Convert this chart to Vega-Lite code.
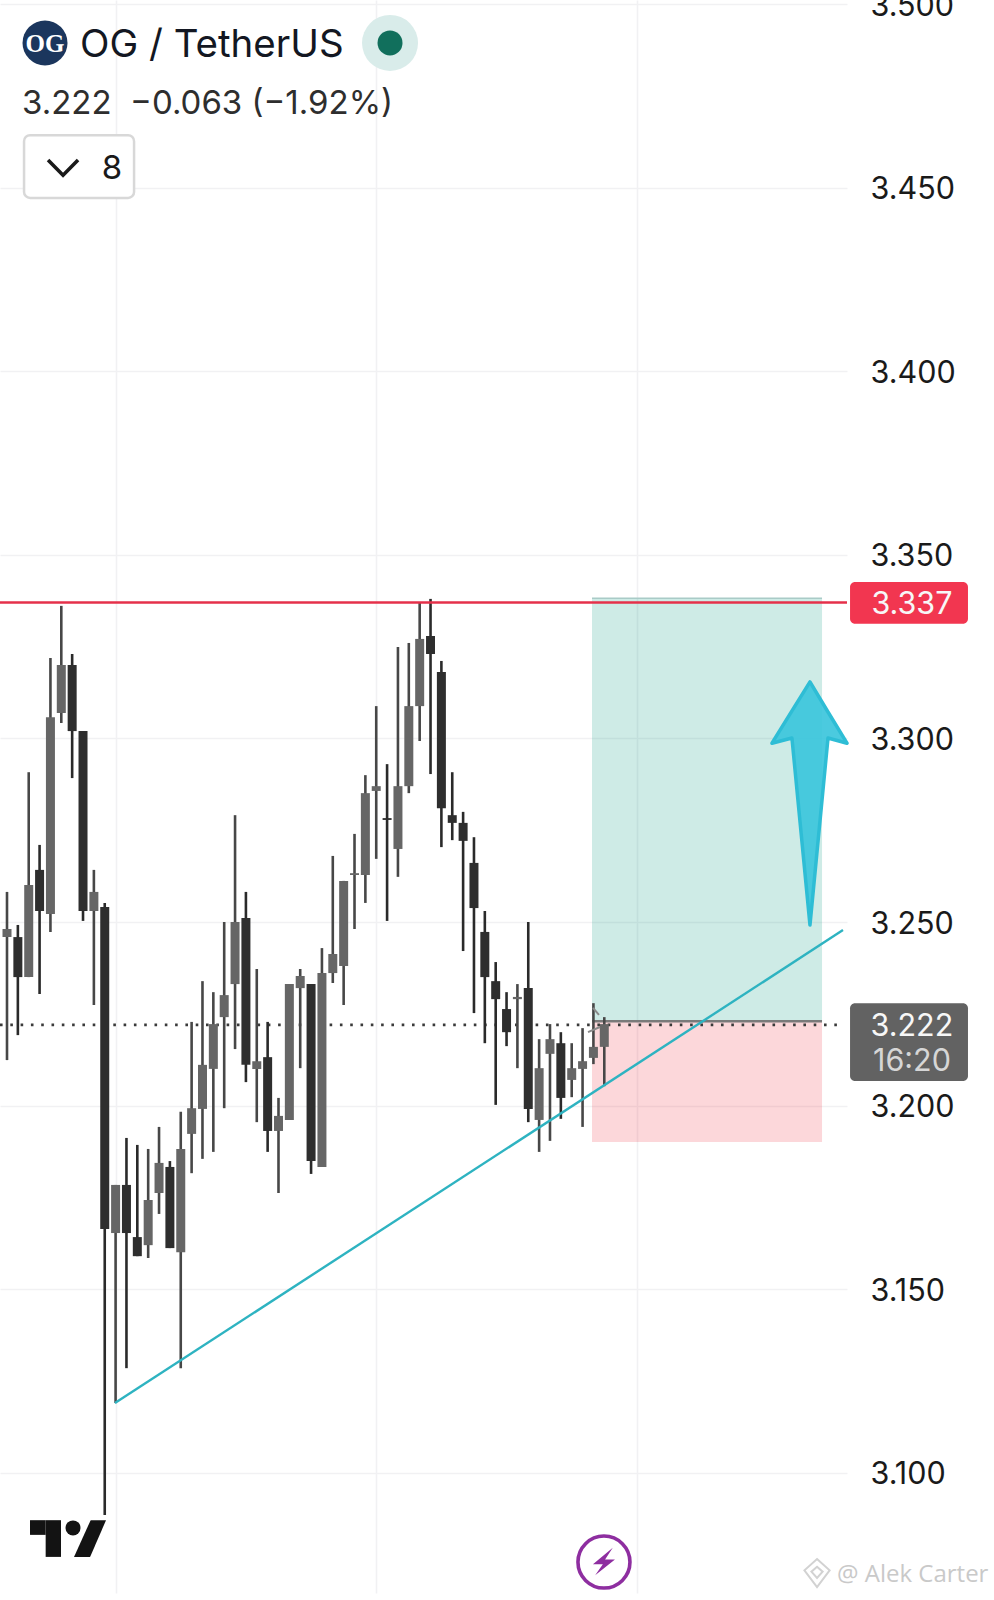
{
  "$schema": "https://vega.github.io/schema/vega-lite/v6.json",
  "width": 847,
  "height": 1593,
  "autosize": {"type": "none"},
  "padding": {"left": 0, "top": 0, "right": 147, "bottom": 7},
  "background": "#ffffff",
  "config": {"view": {"stroke": null}},
  "datasets": {
    "candles": [
      {"i":0,"open":3.2459,"high":3.2582,"low":3.2124,"close":3.2481},
      {"i":1,"open":3.2459,"high":3.2492,"low":3.2192,"close":3.2350},
      {"i":2,"open":3.2350,"high":3.2908,"low":3.2350,"close":3.2601},
      {"i":3,"open":3.2642,"high":3.2710,"low":3.2304,"close":3.2530},
      {"i":4,"open":3.2522,"high":3.3219,"low":3.2473,"close":3.3058},
      {"i":5,"open":3.3069,"high":3.3361,"low":3.3042,"close":3.3200},
      {"i":6,"open":3.3200,"high":3.3230,"low":3.2892,"close":3.3020},
      {"i":7,"open":3.3020,"high":3.3020,"low":3.2503,"close":3.2530},
      {"i":8,"open":3.2530,"high":3.2642,"low":3.2274,"close":3.2582},
      {"i":9,"open":3.2541,"high":3.2552,"low":3.0885,"close":3.1664},
      {"i":10,"open":3.1653,"high":3.1784,"low":3.1190,"close":3.1784},
      {"i":11,"open":3.1784,"high":3.1912,"low":3.1285,"close":3.1653},
      {"i":12,"open":3.1642,"high":3.1893,"low":3.1590,"close":3.1590},
      {"i":13,"open":3.1620,"high":3.1882,"low":3.1585,"close":3.1743},
      {"i":14,"open":3.1762,"high":3.1942,"low":3.1705,"close":3.1844},
      {"i":15,"open":3.1833,"high":3.1849,"low":3.1612,"close":3.1612},
      {"i":16,"open":3.1601,"high":3.1983,"low":3.1285,"close":3.1882},
      {"i":17,"open":3.1923,"high":3.2228,"low":3.1816,"close":3.1993},
      {"i":18,"open":3.1991,"high":3.2339,"low":3.1855,"close":3.2111},
      {"i":19,"open":3.2100,"high":3.2309,"low":3.1874,"close":3.2222},
      {"i":20,"open":3.2241,"high":3.2500,"low":3.1993,"close":3.2301},
      {"i":21,"open":3.2331,"high":3.2791,"low":3.2154,"close":3.2500},
      {"i":22,"open":3.2511,"high":3.2582,"low":3.2064,"close":3.2111},
      {"i":23,"open":3.2100,"high":3.2372,"low":3.1955,"close":3.2121},
      {"i":24,"open":3.2132,"high":3.2228,"low":3.1874,"close":3.1931},
      {"i":25,"open":3.1931,"high":3.2021,"low":3.1762,"close":3.1972},
      {"i":26,"open":3.1961,"high":3.2331,"low":3.1961,"close":3.2331},
      {"i":27,"open":3.2320,"high":3.2372,"low":3.2102,"close":3.2353},
      {"i":28,"open":3.2331,"high":3.2331,"low":3.1814,"close":3.1849},
      {"i":29,"open":3.1833,"high":3.2429,"low":3.1833,"close":3.2361},
      {"i":30,"open":3.2361,"high":3.2680,"low":3.2334,"close":3.2413},
      {"i":31,"open":3.2380,"high":3.2612,"low":3.2274,"close":3.2612},
      {"i":32,"open":3.2628,"high":3.2740,"low":3.2481,"close":3.2633},
      {"i":33,"open":3.2628,"high":3.2900,"low":3.2552,"close":3.2851},
      {"i":34,"open":3.2857,"high":3.3088,"low":3.2672,"close":3.2870},
      {"i":35,"open":3.2783,"high":3.2930,"low":3.2503,"close":3.2778},
      {"i":36,"open":3.2699,"high":3.3249,"low":3.2623,"close":3.2870},
      {"i":37,"open":3.2870,"high":3.3260,"low":3.2851,"close":3.3088},
      {"i":38,"open":3.3088,"high":3.3369,"low":3.2993,"close":3.3271},
      {"i":39,"open":3.3279,"high":3.3380,"low":3.2903,"close":3.3230},
      {"i":40,"open":3.3181,"high":3.3211,"low":3.2704,"close":3.2810},
      {"i":41,"open":3.2791,"high":3.2908,"low":3.2723,"close":3.2770},
      {"i":42,"open":3.2770,"high":3.2800,"low":3.2421,"close":3.2721},
      {"i":43,"open":3.2661,"high":3.2731,"low":3.2252,"close":3.2538},
      {"i":44,"open":3.2473,"high":3.2530,"low":3.2170,"close":3.2350},
      {"i":45,"open":3.2339,"high":3.2391,"low":3.2002,"close":3.2290},
      {"i":46,"open":3.2263,"high":3.2309,"low":3.2162,"close":3.2200},
      {"i":47,"open":3.2290,"high":3.2331,"low":3.2102,"close":3.2296},
      {"i":48,"open":3.2320,"high":3.2500,"low":3.1955,"close":3.1991},
      {"i":49,"open":3.1961,"high":3.2181,"low":3.1874,"close":3.2102},
      {"i":50,"open":3.2141,"high":3.2222,"low":3.1904,"close":3.2181},
      {"i":51,"open":3.2170,"high":3.2200,"low":3.1964,"close":3.2021},
      {"i":52,"open":3.2070,"high":3.2170,"low":3.2023,"close":3.2102},
      {"i":53,"open":3.2100,"high":3.2211,"low":3.1942,"close":3.2121},
      {"i":54,"open":3.2130,"high":3.2279,"low":3.2113,"close":3.2160},
      {"i":55,"open":3.2160,"high":3.2241,"low":3.2053,"close":3.2222}
    ]
  },
  "encoding": {
    "x": {
      "field": "i",
      "type": "quantitative",
      "scale": {"domain": [-0.6446, 77.35], "nice": false, "zero": false, "padding": 0},
      "axis": {
        "values": [10, 34, 58],
        "grid": true,
        "gridColor": "#f1f1f3",
        "gridWidth": 1.6,
        "labels": false,
        "ticks": false,
        "domain": false,
        "title": null
      }
    },
    "y": {
      "field": "p",
      "type": "quantitative",
      "scale": {"domain": [3.06727, 3.5011], "nice": false, "zero": false},
      "axis": {
        "orient": "right",
        "values": [3.1, 3.15, 3.2, 3.25, 3.3, 3.35, 3.4, 3.45, 3.5],
        "format": ".3f",
        "grid": true,
        "gridColor": "#f1f1f3",
        "gridWidth": 1.6,
        "ticks": false,
        "domain": false,
        "title": null,
        "labelFont": "Inter",
        "labelFontSize": 30.5,
        "labelColor": "#1a1a1a",
        "labelPadding": 23,
        "labelAlign": "left",
        "labelOffset": 2,
        "labelBound": false,
        "labelFlush": false,
        "labelOverlap": false
      }
    }
  },
  "layer": [
    {
      "data": {"values": [{"i": 53.87, "i2": 75.05, "p": 3.3382, "p2": 3.223}]},
      "mark": {"type": "rect", "fill": "#089981", "opacity": 0.2},
      "encoding": {"x2": {"field": "i2"}, "y2": {"field": "p2"}}
    },
    {
      "data": {"values": [{"i": 53.87, "i2": 75.05, "p": 3.223, "p2": 3.1901}]},
      "mark": {"type": "rect", "fill": "#f23645", "opacity": 0.2},
      "encoding": {"x2": {"field": "i2"}, "y2": {"field": "p2"}}
    },
    {
      "data": {"values": [{"i": 53.87, "i2": 75.05, "p": 3.3382}]},
      "mark": {"type": "rule", "color": "#a9cbc7", "strokeWidth": 1.5},
      "encoding": {"x2": {"field": "i2"}}
    },
    {
      "data": {"values": [{"i": 53.87, "i2": 75.05, "p": 3.223}]},
      "mark": {"type": "rule", "color": "#7a7a7a", "strokeWidth": 2.5},
      "encoding": {"x2": {"field": "i2"}}
    },
    {
      "data": {"values": [{"i": -0.6446, "i2": 76.98, "p": 3.222}]},
      "mark": {"type": "rule", "color": "#3a3a3a", "strokeWidth": 2.6, "strokeDash": [2.6, 7.7]},
      "encoding": {"x2": {"field": "i2"}}
    },
    {
      "data": {"name": "candles"},
      "mark": {"type": "rule", "strokeWidth": 2.6},
      "encoding": {
        "y": {
          "field": "high",
          "type": "quantitative",
          "scale": {"domain": [3.06727, 3.5011], "nice": false, "zero": false}
        },
        "y2": {"field": "low"},
        "color": {
          "condition": {"test": "datum.close > datum.open", "value": "#474747"},
          "value": "#2a2a2a"
        }
      }
    },
    {
      "data": {"name": "candles"},
      "mark": {"type": "bar", "size": 9},
      "encoding": {
        "y": {
          "field": "open",
          "type": "quantitative",
          "scale": {"domain": [3.06727, 3.5011], "nice": false, "zero": false}
        },
        "y2": {"field": "close"},
        "color": {
          "condition": {"test": "datum.close > datum.open", "value": "#666666"},
          "value": "#2e2e2e"
        }
      }
    },
    {
      "data": {"values": [
        {"i": 53.96, "i2": 54.51, "p": 3.2266, "p2": 3.2247},
        {"i": 53.5, "i2": 54.6, "p": 3.22, "p2": 3.2214}
      ]},
      "mark": {"type": "rule", "color": "#8a8a8a", "strokeWidth": 2},
      "encoding": {"x2": {"field": "i2"}, "y2": {"field": "p2"}}
    },
    {
      "data": {"values": [{"i": -0.6446, "i2": 77.35, "p": 3.337}]},
      "mark": {"type": "rule", "color": "#e5304a", "strokeWidth": 2.4},
      "encoding": {"x2": {"field": "i2"}}
    },
    {
      "data": {"values": [{"i": 9.94, "i2": 76.98, "p": 3.119, "p2": 3.2478}]},
      "mark": {"type": "rule", "color": "#2eb3c1", "strokeWidth": 2.4},
      "encoding": {"x2": {"field": "i2"}, "y2": {"field": "p2"}}
    },
    {
      "data": {"values": [
        {"i": 70.44, "p": 3.2987, "p2": 3.2987},
        {"i": 72.28, "p": 3.3075, "p2": 3.3001},
        {"i": 73.94, "p": 3.3154, "p2": 3.2492},
        {"i": 75.6, "p": 3.3072, "p2": 3.3001},
        {"i": 77.35, "p": 3.2987, "p2": 3.2987}
      ]},
      "mark": {"type": "area", "fill": "#3cc6dc", "fillOpacity": 0.92, "stroke": "#2ebdd5", "strokeWidth": 3.5, "strokeJoin": "round"},
      "encoding": {"y2": {"field": "p2"}}
    },
    {
      "data": {"values": [{"i": 77.63, "i2": 88.49, "p": 3.3426, "p2": 3.3312}]},
      "mark": {"type": "rect", "fill": "#f23650", "cornerRadius": 5},
      "encoding": {"x2": {"field": "i2"}, "y2": {"field": "p2"}}
    },
    {
      "data": {"values": [{"i": 77.63, "i2": 88.49, "p": 3.2279, "p2": 3.2067}]},
      "mark": {"type": "rect", "fill": "#626262", "cornerRadius": 5},
      "encoding": {"x2": {"field": "i2"}, "y2": {"field": "p2"}}
    },
    {
      "data": {"values": [{"i": 83.33, "p": 3.337, "label": "3.337"}, {"i": 83.33, "p": 3.222, "label": "3.222"}]},
      "mark": {"type": "text", "font": "Inter", "fontSize": 30.5, "dy": 2, "color": "#f7f7f7", "align": "center", "baseline": "middle"},
      "encoding": {"text": {"field": "label"}}
    },
    {
      "data": {"values": [{"i": 83.33, "p": 3.2124, "label": "16:20"}]},
      "mark": {"type": "text", "font": "Inter", "fontSize": 30.5, "dy": 2, "color": "#d6d6d6", "align": "center", "baseline": "middle"},
      "encoding": {"text": {"field": "label"}}
    },
    {
      "data": {"values": [{"i": 3.5, "p": 3.4894}]},
      "mark": {"type": "point", "shape": "circle", "filled": true, "opacity": 1, "size": 2025, "color": "#1b365d"}
    },
    {
      "data": {"values": [{"i": 3.5, "p": 3.4891, "label": "OG"}]},
      "mark": {"type": "text", "font": "Liberation Sans Narrow", "fontWeight": "bold", "fontSize": 25, "color": "#ffffff", "align": "center", "baseline": "middle"},
      "encoding": {"text": {"field": "label"}}
    },
    {
      "data": {"values": [{"i": 6.72, "p": 3.4897, "label": "OG / TetherUS"}]},
      "mark": {"type": "text", "font": "Inter", "fontSize": 38.5, "dy": 3, "color": "#131722", "align": "left", "baseline": "middle"},
      "encoding": {"text": {"field": "label"}}
    },
    {
      "data": {"values": [{"i": 35.27, "p": 3.4894}]},
      "mark": {"type": "point", "shape": "circle", "filled": true, "opacity": 1, "size": 3136, "color": "#d9ecea"}
    },
    {
      "data": {"values": [{"i": 35.27, "p": 3.4894}]},
      "mark": {"type": "point", "shape": "circle", "filled": true, "opacity": 1, "size": 625, "color": "#116f5c"}
    },
    {
      "data": {"values": [{"i": 1.38, "p": 3.4733, "label": "3.222\u00a0\u00a0−0.063 (−1.92%)"}]},
      "mark": {"type": "text", "font": "Inter", "fontSize": 33, "dy": 2, "color": "#2e2e2e", "align": "left", "baseline": "middle"},
      "encoding": {"text": {"field": "label"}}
    },
    {
      "data": {"values": [{"i": 1.57, "i2": 11.7, "p": 3.4643, "p2": 3.4472}]},
      "mark": {"type": "rect", "fill": "#ffffff", "stroke": "#d8d8d8", "strokeWidth": 2.5, "cornerRadius": 6},
      "encoding": {"x2": {"field": "i2"}, "y2": {"field": "p2"}}
    },
    {
      "data": {"values": [
        {"i": 3.78, "p": 3.4575},
        {"i": 5.16, "p": 3.4534},
        {"i": 6.54, "p": 3.4575}
      ]},
      "mark": {"type": "line", "color": "#1a1a1a", "strokeWidth": 3.6}
    },
    {
      "data": {"values": [{"i": 9.67, "p": 3.4556, "label": "8"}]},
      "mark": {"type": "text", "font": "Inter", "fontSize": 33, "dy": 2, "color": "#1a1a1a", "align": "center", "baseline": "middle"},
      "encoding": {"text": {"field": "label"}}
    },
    {
      "data": {"values": [{"i": 2.12, "i2": 3.56, "p": 3.0871, "p2": 3.0831}, {"i": 3.56, "i2": 4.97, "p": 3.0871, "p2": 3.0771}]},
      "mark": {"type": "rect", "fill": "#131313"},
      "encoding": {"x2": {"field": "i2"}, "y2": {"field": "p2"}}
    },
    {
      "data": {"values": [{"i": 6.08, "p": 3.085}]},
      "mark": {"type": "point", "shape": "circle", "filled": true, "opacity": 1, "size": 225, "color": "#131313"}
    },
    {
      "data": {"values": [
        {"i": 6.17, "p": 3.0771, "p2": 3.0771},
        {"i": 7.64, "p": 3.0867, "p2": 3.0771},
        {"i": 7.71, "p": 3.0871, "p2": 3.0775},
        {"i": 9.12, "p": 3.0871, "p2": 3.0871}
      ]},
      "mark": {"type": "area", "fill": "#131313"},
      "encoding": {"y2": {"field": "p2"}}
    },
    {
      "data": {"values": [{"i": 54.97, "p": 3.0757}]},
      "mark": {"type": "point", "shape": "circle", "filled": false, "opacity": 1, "size": 2704, "color": "#8e2ea0", "strokeWidth": 3.6}
    },
    {
      "data": {"values": [{"i": 54.97, "p": 3.0757}]},
      "mark": {"type": "point", "shape": "M.4,-.65L-.5,.1L-.05,.1L-.4,.6L.5,-.12L.05,-.12Z", "filled": true, "opacity": 1, "size": 1936, "color": "#8e2ea0"}
    },
    {
      "data": {"values": [{"i": 74.59, "p": 3.0727}]},
      "mark": {"type": "point", "shape": "M0,-1L.9,-.2L0,1L-.9,-.2ZM0,-.45L.4,-.1L0,.35L-.4,-.1Z", "filled": false, "opacity": 1, "size": 784, "color": "#d2d2d2", "strokeWidth": 2}
    },
    {
      "data": {"values": [{"i": 76.43, "p": 3.0722, "label": "@ Alek Carter"}]},
      "mark": {"type": "text", "font": "Open Sans", "fontSize": 24, "color": "#c9c9c9", "align": "left", "baseline": "middle"},
      "encoding": {"text": {"field": "label"}}
    }
  ]
}
